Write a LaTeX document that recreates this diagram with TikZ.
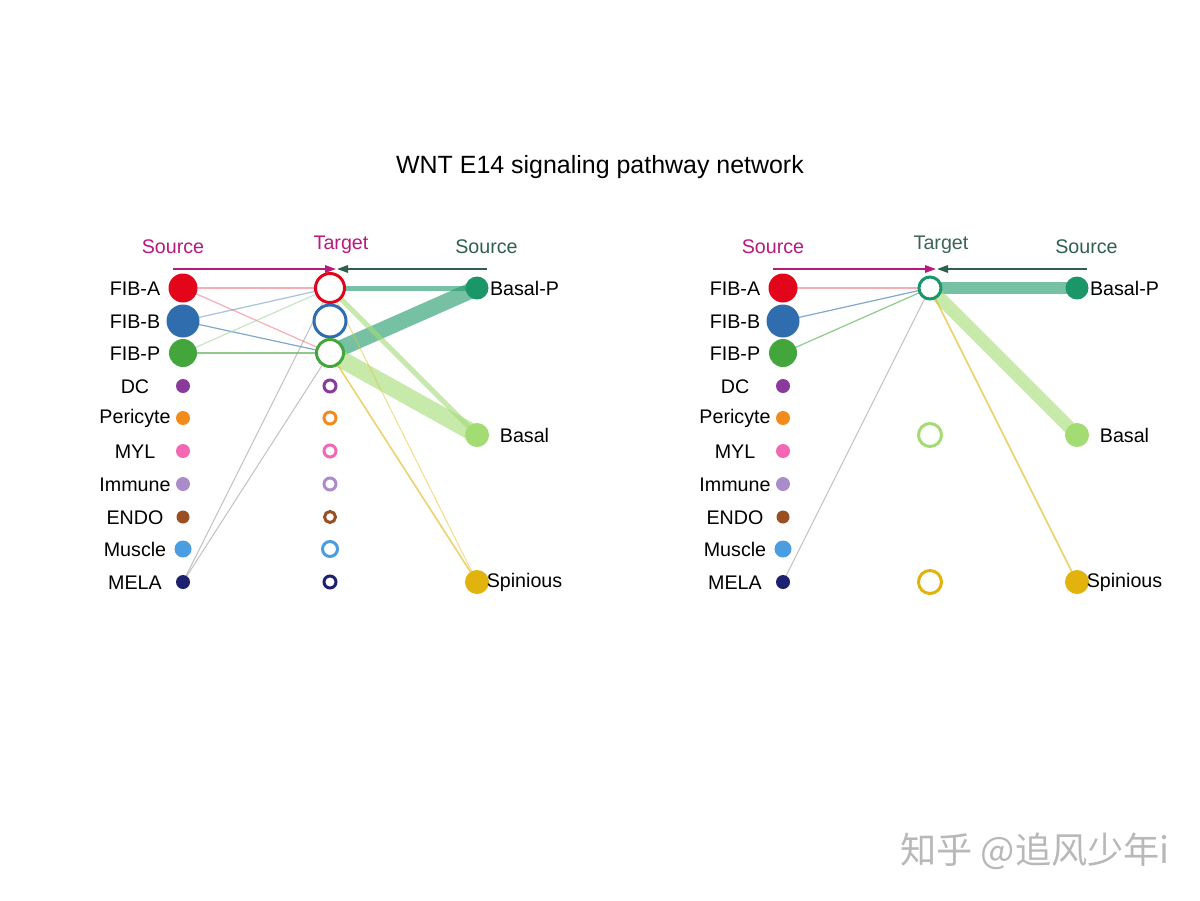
\documentclass[tikz,border=0pt]{standalone}
\usepackage{fontspec}
\setmainfont{Liberation Sans}
\newfontfamily\cjkfont{Noto Sans CJK SC}
\usetikzlibrary{arrows.meta,backgrounds}
\definecolor{fibacol}{HTML}{E3061B}
\definecolor{fibbcol}{HTML}{2F6DAE}
\definecolor{fibpcol}{HTML}{43A63C}
\definecolor{dccol}{HTML}{8B3A9C}
\definecolor{pericol}{HTML}{F28A1C}
\definecolor{mylcol}{HTML}{F368B4}
\definecolor{immcol}{HTML}{AB8CCB}
\definecolor{endocol}{HTML}{994F22}
\definecolor{muscol}{HTML}{4A9DE0}
\definecolor{melacol}{HTML}{1E2170}
\definecolor{bpcol}{HTML}{1B9668}
\definecolor{bacol}{HTML}{A2DC72}
\definecolor{spicol}{HTML}{E1B30C}
\definecolor{srccol}{HTML}{B8197C}
\definecolor{othcol}{HTML}{2F5F50}
\tikzset{
    x=0.02cm, y=-0.02cm,
    dot/.style={circle, inner sep=0pt, minimum size=#1*0.02cm},
    ring/.style={circle, inner sep=0pt, fill=white, line width=0.06cm, minimum size=#1*0.02cm},
    lab/.style={font=\fontsize{11.2}{13}\selectfont, text=black, inner sep=0pt},
    head/.style={font=\fontsize{11.2}{13}\selectfont, inner sep=0pt},
    edge/.style={line width=#1*0.02cm, opacity=0.6},
    tip/.style={-{Triangle[length=0.22cm,width=0.15cm]}, line width=0.03cm},
}
\begin{document}
\begin{tikzpicture}
    \useasboundingbox (0,0) rectangle (1200,900);
    \node[font=\fontsize{14.2}{17}\selectfont] (title) at (600,167) {WNT E14 signaling pathway network};
    % both panels: sources and headers
    \foreach \p/\dx in {l/0,r/600} {
        \foreach \name/\txt/\ypos/\dia/\col in {
            a/FIB-A/288/29/fibacol, b/FIB-B/321/33/fibbcol, c/FIB-P/353/28/fibpcol,
            d/DC/386/14/dccol, e/Pericyte/418/14/pericol, f/MYL/451/14/mylcol,
            g/Immune/484/14/immcol, h/ENDO/517/13/endocol, i/Muscle/549/17/muscol,
            j/MELA/582/14/melacol} {
            \node[dot=\dia, fill=\col] (\p\name) at (183+\dx,\ypos) {};
            \node[lab] (\p\name txt) at (135+\dx,\ypos+0.5) {\txt};
        }
        \foreach \name/\txt/\ypos/\dia/\col in {
            x/Basal-P/288/23/bpcol, y/Basal/435/24/bacol, z/Spinious/582/24/spicol} {
            \node[dot=\dia, fill=\col] (\p\name) at (477+\dx,\ypos) {};
            \node[lab] (\p\name txt) at (524.5+\dx,\ypos) {\txt};
        }
        \node[head, text=srccol] (\p src) at (173+\dx,247) {Source};
        \node[head, text=othcol] (\p oth) at (486.5+\dx,247) {Source};
        \coordinate (\p srcs) at (173+\dx,269);
        \coordinate (\p srce) at (336+\dx,269);
        \coordinate (\p oths) at (487+\dx,269);
        \coordinate (\p othe) at (337+\dx,269);
        \draw[tip, srccol] (\p srcs) -- (\p srce);
        \draw[tip, othcol] (\p oths) -- (\p othe);
    }
    \node[head, text=srccol] (ltgt) at (341,245) {Target};
    \node[head, text=othcol!85!gray] (rtgt) at (941,245) {Target};
    % left panel targets
    \foreach \name/\ypos/\dia/\col in {
        a/288/29/fibacol, b/321/32/fibbcol, c/353/27/fibpcol,
        d/386/12/dccol, e/418/12/pericol, f/451/12/mylcol,
        g/484/12/immcol, h/517/11/endocol, i/549/15/muscol, j/582/12/melacol} {
        \node[ring=\dia, draw=\col] (t\name) at (330,\ypos) {};
    }
    % right panel targets
    \node[ring=22, draw=bpcol] (tx) at (930,288) {};
    \node[ring=23, draw=bacol] (ty) at (930,435) {};
    \node[ring=23, draw=spicol] (tz) at (930,582) {};
    \begin{scope}[on background layer]
        \draw[edge=1.2, fibacol!55] (la.center) -- (ta.center);
        \draw[edge=1.2, fibacol!55] (la.center) -- (tc.center);
        \draw[edge=1.2, fibbcol!70] (lb.center) -- (ta.center);
        \draw[edge=1.2, fibbcol] (lb.center) -- (tc.center);
        \draw[edge=1.2, fibpcol!50] (lc.center) -- (ta.center);
        \draw[edge=1.2, fibpcol] (lc.center) -- (tc.center);
        \draw[edge=1, gray!80] (lj.center) -- (ta.center);
        \draw[edge=1, gray!80] (lj.center) -- (tc.center);
        \draw[edge=5, bpcol] (lx.center) -- (ta.center);
        \draw[edge=16, bpcol] (lx.center) -- (tc.center);
        \draw[edge=5, bacol] (ta.center) -- (ly.center);
        \draw[edge=17, bacol] (tc.center) -- (ly.center);
        \draw[edge=1, spicol!80] (ta.center) -- (lz.center);
        \draw[edge=1.6, spicol] (tc.center) -- (lz.center);
        \draw[edge=1.2, fibacol!55] (ra.center) -- (tx.center);
        \draw[edge=1.2, fibbcol] (rb.center) -- (tx.center);
        \draw[edge=1.2, fibpcol] (rc.center) -- (tx.center);
        \draw[edge=1, gray!80] (rj.center) -- (tx.center);
        \draw[edge=12, bpcol] (rx.center) -- (tx.center);
        \draw[edge=13, bacol] (tx.center) -- (ry.center);
        \draw[edge=1.6, spicol] (tx.center) -- (rz.center);
    \end{scope}
    \node[font=\cjkfont\fontsize{20.6}{24}\selectfont, text=black!28] (mark) at (1035,851) {知乎 @追风少年i};
\end{tikzpicture}
\end{document}
